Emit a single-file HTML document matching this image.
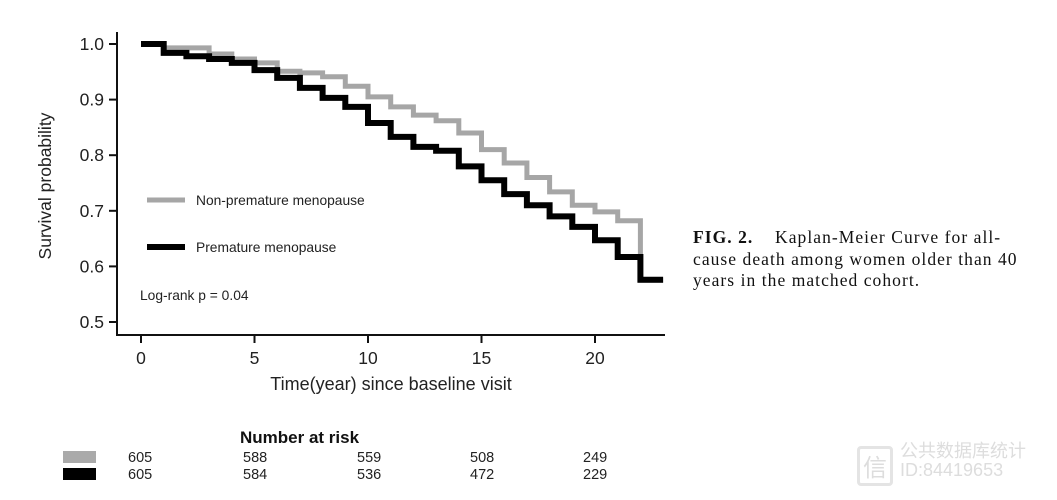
<!DOCTYPE html>
<html><head><meta charset="utf-8"><style>
body{margin:0;background:#fff;width:1057px;height:500px;overflow:hidden;position:relative;font-family:"Liberation Sans",Arial,sans-serif}
.cap{position:absolute;left:693px;top:227px;white-space:nowrap;font-family:"Liberation Serif",serif;font-size:17.5px;line-height:21.7px;letter-spacing:1.05px;color:#111}
.wm{position:absolute;left:900px;top:442px;color:#ddd;font-family:"Liberation Sans","Noto Sans CJK SC",sans-serif;font-size:18px;line-height:19px}
.wmi{position:absolute;left:857px;top:446px;width:30px;height:34px;border:3px solid #e4e4e4;border-radius:4px;color:#ddd;font-family:"Noto Sans CJK SC",sans-serif;font-size:24px;line-height:34px;text-align:center}
</style></head><body>
<svg id="chart" width="1057" height="500" style="position:absolute;left:0;top:0" font-family="Liberation Sans, Arial, sans-serif">
<g id="axes"></g><g id="series"></g>
<g>
<line x1="147" y1="200" x2="185" y2="200" stroke="#a6a6a6" stroke-width="5"/>
<text x="196" y="205" font-size="13.8" fill="#222">Non-premature menopause</text>
<line x1="147" y1="247" x2="185" y2="247" stroke="#000" stroke-width="6"/>
<text x="196" y="252" font-size="13.8" fill="#222">Premature menopause</text>
</g>
<text x="140" y="300" font-size="13.8" fill="#222">Log-rank  p = 0.04</text>
<text transform="translate(51,186) rotate(-90)" text-anchor="middle" font-size="17.5" fill="#222">Survival probability</text>
<text x="391" y="390" text-anchor="middle" font-size="18" fill="#222">Time(year) since baseline visit</text>
<text x="240" y="443" font-size="17" font-weight="bold" fill="#111">Number at risk</text>
<rect x="63" y="451" width="33" height="12" fill="#aaa"/>
<rect x="63" y="468" width="33" height="12" fill="#000"/>
<g id="risk"></g>
</svg>
<div class="cap"><b>FIG. 2.</b>&nbsp;&nbsp;&nbsp; Kaplan-Meier Curve for all-<br>cause death among women older than 40<br>years in the matched cohort.</div>
<div class="wmi">信</div>
<div class="wm">公共数据库统计<br>ID:84419653</div>
<script>
const years=[0,1,2,3,4,5,6,7,8,9,10,11,12,13,14,15,16,17,18,19,20,21,22];
const nonPremature=[1,.993,.993,.982,.973,.966,.951,.948,.941,.924,.905,.887,.872,.862,.84,.81,.786,.76,.734,.71,.698,.682,.575];
const premature=[1,.984,.978,.973,.966,.953,.939,.921,.903,.887,.858,.833,.815,.808,.78,.755,.73,.71,.69,.671,.647,.617,.576];
const endYear=23;
const xTicks=[0,5,10,15,20];
const yTicks=[0.5,0.6,0.7,0.8,0.9,1.0];
const riskNonPremature=[605,588,559,508,249];
const riskPremature=[605,584,536,472,229];
const NS='http://www.w3.org/2000/svg';
const X=t=>141+t*22.7, Y=v=>44+(1-v)*556;
function el(tag,attrs,parent,txt){const e=document.createElementNS(NS,tag);for(const k in attrs)e.setAttribute(k,attrs[k]);if(txt!=null)e.textContent=txt;parent.appendChild(e);return e;}
const axes=document.getElementById('axes');
let a=el('line',{x1:117,y1:32,x2:117,y2:336,stroke:'#111','stroke-width':2},axes);


a=el('line',{x1:116,y1:335,x2:665,y2:335,stroke:'#111','stroke-width':2},axes);


yTicks.forEach(v=>{
 const t=el('line',{x1:109,y1:Y(v),x2:117,y2:Y(v),stroke:'#111','stroke-width':2},axes);
 
 
 const l=el('text',{x:104,y:Y(v)+6,'text-anchor':'end','font-size':17.5,fill:'#222'},axes,v.toFixed(1));
 
 
});
xTicks.forEach(v=>{
 const t=el('line',{x1:X(v),y1:335,x2:X(v),y2:343,stroke:'#111','stroke-width':2},axes);
 
 
 const l=el('text',{x:X(v),y:364,'text-anchor':'middle','font-size':17.5,fill:'#222'},axes,String(v));
 
 
});
function stepPath(vals){let d='M'+X(years[0])+','+Y(vals[0]);for(let i=1;i<vals.length;i++){d+=' H'+X(years[i])+' V'+Y(vals[i]);}d+=' H'+X(endYear);return d;}
const s=document.getElementById('series');
let p=el('path',{d:stepPath(nonPremature),fill:'none',stroke:'#a6a6a6','stroke-width':5},s);


p=el('path',{d:stepPath(premature),fill:'none',stroke:'#000','stroke-width':6},s);


const risk=document.getElementById('risk');
const rx=[128,243,357,470,583];
riskNonPremature.forEach((n,i)=>{const t=el('text',{x:rx[i],y:462,'font-size':14.5,fill:'#222'},risk,String(n));
 
 });
riskPremature.forEach((n,i)=>{const t=el('text',{x:rx[i],y:479,'font-size':14.5,fill:'#222'},risk,String(n));
 
 });
</script>
</body></html>
